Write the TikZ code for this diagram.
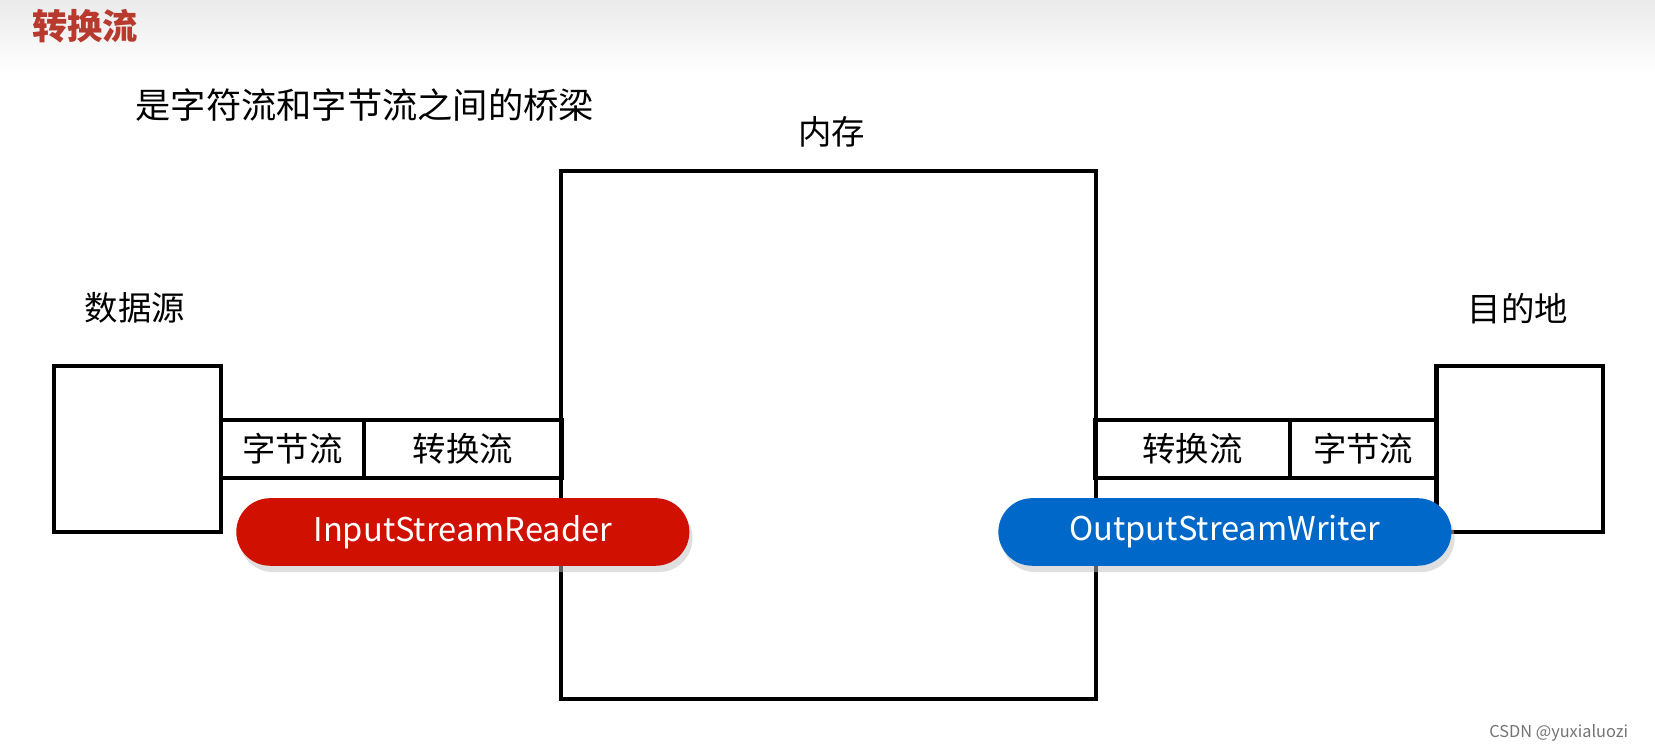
\documentclass[tikz,border=0pt]{standalone}
\usepackage{fontspec}
\setmainfont{Noto Sans CJK SC}
\usetikzlibrary{positioning, shadows}
\definecolor{titlered}{HTML}{B83A2E}
\definecolor{pillred}{HTML}{D01000}
\definecolor{pillblue}{HTML}{0068C8}

\begin{document}
\begin{tikzpicture}[
    x=0.01cm, y=-0.01cm,
    box/.style={rectangle, draw, line width=1.1pt, inner sep=0pt},
    cell/.style={rectangle, draw, line width=1.1pt, minimum height=0.55cm, inner sep=0pt, font=\fontsize{9}{10}\selectfont},
    pill/.style={rectangle, rounded corners=0.32cm, minimum width=4.29cm, minimum height=0.64cm, text=white, font=\fontsize{8.8}{10}\selectfont, drop shadow={shadow xshift=0.03cm, shadow yshift=-0.06cm, fill=black!25}},
    label/.style={font=\fontsize{9}{10}\selectfont}
]
    \useasboundingbox (0,0) rectangle (1568,711);
    % header band
    \shade[top color=black!8, bottom color=white] (0,0) rectangle (1568,70);
    \node[anchor=west, text=titlered, font=\fontsize{9.5}{11}\selectfont\bfseries] (title) at (18,25) {转换流};
    \node[anchor=west, font=\fontsize{9.5}{11}\selectfont] (bridge) at (116,100) {是字符流和字节流之间的桥梁};

    % memory
    \node[box, minimum width=5.06cm, minimum height=5cm] (memory) at (785,412) {};
    \node[label] (memorylabel) at (788,125) {内存};

    % source and target
    \node[box, minimum width=1.58cm, minimum height=1.57cm] (source) at (130,425.5) {};
    \node[label] (sourcelabel) at (128,292) {数据源};
    \node[box, minimum width=1.58cm, minimum height=1.57cm] (target) at (1440,425.5) {};
    \node[label] (targetlabel) at (1438,292) {目的地};

    % left strip
    \node[cell, minimum width=1.36cm] (inbyte) at (277,425.5) {字节流};
    \node[cell, minimum width=1.87cm] (inconv) at (438.5,425.5) {转换流};
    % right strip
    \node[cell, minimum width=1.84cm] (outconv) at (1130,425.5) {转换流};
    \node[cell, minimum width=1.39cm] (outbyte) at (1291.5,425.5) {字节流};

    % readers and writers
    \node[pill, fill=pillred] (reader) at (438.5,504) {InputStreamReader};
    \node[pill, fill=pillblue] (writer) at (1160.5,504) {OutputStreamWriter};

    \node[anchor=east, text=black!55, font=\fontsize{4.4}{5}\selectfont] (credit) at (1555,694) {CSDN @yuxialuozi};
\end{tikzpicture}
\end{document}
